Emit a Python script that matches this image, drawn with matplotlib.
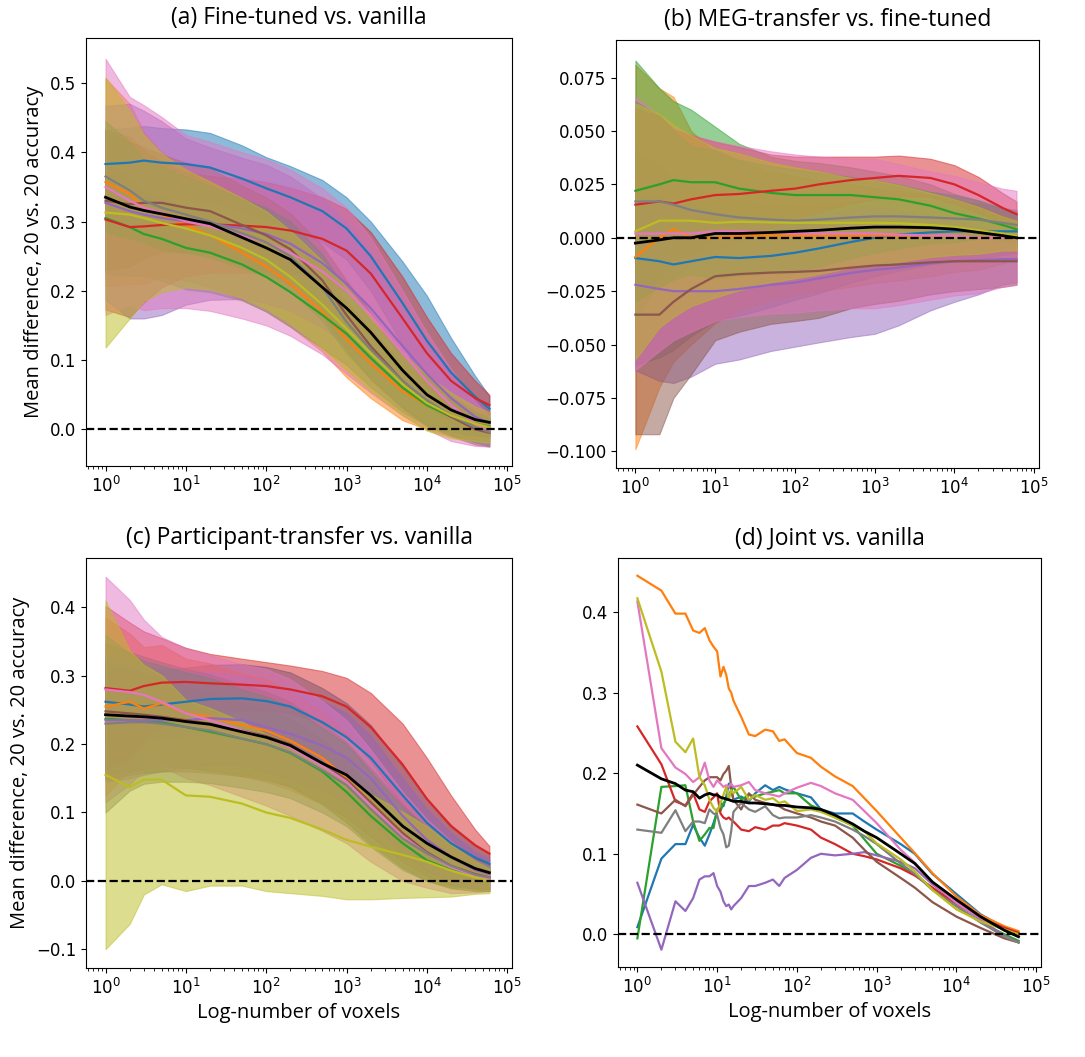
import numpy as np
import matplotlib
matplotlib.use("Agg")
import matplotlib.pyplot as plt

SERIES = ["blue", "orange", "green", "red", "purple", "brown", "pink", "gray", "olive"]
COLORS = {s: "tab:" + s for s in SERIES}

X_SMOOTH = [1, 2, 3, 5, 10, 20, 50, 100, 200, 500, 1000, 2000, 5000, 10000, 20000, 40000, 60000]

# ---------------- (a) Fine-tuned vs. vanilla ----------------
A_MID = {
    "blue":   [.383, .385, .388, .385, .383, .378, .362, .348, .335, .315, .290, .250, .182, .128, .082, .047, .030],
    "orange": [.357, .340, .320, .310, .295, .280, .255, .235, .210, .170, .130, .095, .055, .035, .018, .007, .003],
    "green":  [.305, .292, .282, .275, .262, .255, .238, .220, .198, .165, .138, .103, .060, .035, .018, .008, .004],
    "red":    [.303, .292, .293, .295, .296, .296, .294, .292, .287, .275, .258, .225, .160, .110, .070, .045, .035],
    "purple": [.327, .315, .310, .305, .300, .297, .290, .282, .268, .240, .210, .175, .120, .080, .045, .018, .009],
    "brown":  [.330, .325, .327, .327, .320, .315, .295, .280, .260, .215, .165, .120, .070, .040, .018, .000, -.005],
    "pink":   [.350, .330, .320, .313, .300, .293, .280, .270, .255, .228, .200, .165, .110, .070, .035, .008, -.003],
    "gray":   [.365, .345, .330, .320, .310, .300, .283, .270, .250, .205, .155, .115, .070, .042, .020, .003, -.004],
    "olive":  [.313, .310, .305, .298, .290, .280, .262, .245, .220, .180, .145, .110, .065, .038, .020, .008, .003],
}
A_HW = {
    "blue":   [.050, .050, .050, .050, .050, .050, .048, .045, .045, .045, .045, .050, .060, .065, .050, .030, .018],
    "orange": [.150, .130, .110, .090, .080, .075, .068, .065, .062, .058, .055, .050, .042, .035, .028, .022, .020],
    "green":  [.080, .070, .060, .060, .060, .057, .052, .050, .050, .048, .045, .042, .035, .030, .022, .017, .015],
    "red":    [.130, .130, .110, .090, .075, .070, .068, .065, .062, .060, .060, .060, .060, .052, .040, .025, .015],
    "purple": [.140, .155, .150, .140, .120, .110, .102, .100, .097, .093, .090, .080, .060, .045, .035, .025, .021],
    "brown":  [.100, .090, .080, .070, .065, .062, .057, .055, .052, .050, .050, .048, .040, .035, .028, .022, .020],
    "pink":   [.185, .150, .148, .138, .125, .122, .120, .120, .120, .120, .120, .112, .090, .070, .052, .032, .022],
    "gray":   [.080, .070, .060, .060, .055, .052, .050, .050, .050, .048, .045, .042, .038, .035, .028, .022, .020],
    "olive":  [.195, .150, .120, .100, .085, .078, .072, .070, .067, .063, .060, .055, .045, .040, .033, .025, .022],
}
A_MEAN = [.335, .321, .316, .311, .304, .297, .277, .262, .245, .205, .175, .140, .085, .050, .028, .014, .010]

# ---------------- (b) MEG-transfer vs. fine-tuned ----------------
B_MID = {
    "blue":   [-.0095, -.011, -.0125, -.011, -.009, -.0095, -.0085, -.007, -.005, -.002, .000, .0015, .0025, .003, .003, .003, .003],
    "orange": [-.009, .000, .004, .000, .000, .001, .001, .001, .001, .001, .001, .001, .001, .001, .000, .000, .000],
    "green":  [.022, .025, .027, .026, .026, .023, .021, .020, .020, .020, .019, .018, .015, .0115, .009, .006, .004],
    "red":    [.0155, .017, .016, .018, .020, .0205, .022, .023, .025, .027, .028, .029, .028, .025, .020, .014, .011],
    "purple": [-.022, -.024, -.025, -.025, -.025, -.024, -.022, -.021, -.019, -.0165, -.015, -.014, -.012, -.011, -.0105, -.010, -.010],
    "brown":  [-.036, -.036, -.030, -.024, -.018, -.017, -.0163, -.016, -.0155, -.014, -.013, -.0125, -.0115, -.011, -.011, -.011, -.011],
    "pink":   [.002, .002, .002, .002, .003, .003, .0025, .002, .002, .002, .002, .0015, .001, .001, .000, .000, .000],
    "gray":   [.017, .017, .0155, .013, .011, .0095, .0085, .008, .0085, .0095, .010, .010, .0095, .009, .0085, .007, .006],
    "olive":  [.003, .008, .008, .008, .007, .0075, .0072, .007, .007, .007, .007, .0068, .006, .005, .0035, .002, .001],
}
B_HW = {
    "blue":   [.050, .045, .040, .035, .030, .027, .024, .022, .021, .019, .018, .017, .015, .014, .013, .011, .010],
    "orange": [.090, .070, .062, .050, .040, .035, .030, .028, .026, .024, .022, .021, .019, .017, .015, .012, .010],
    "green":  [.061, .045, .037, .034, .026, .021, .017, .016, .015, .013, .012, .011, .010, .009, .0085, .0075, .007],
    "red":    [.045, .040, .035, .030, .025, .022, .017, .015, .013, .011, .010, .0095, .009, .009, .0085, .007, .006],
    "purple": [.040, .043, .043, .040, .034, .033, .031, .030, .030, .030, .030, .027, .022, .019, .016, .012, .011],
    "brown":  [.056, .056, .045, .040, .030, .027, .024, .023, .022, .019, .018, .017, .015, .014, .013, .012, .011],
    "pink":   [.064, .055, .050, .046, .042, .040, .038, .037, .036, .035, .035, .033, .030, .028, .026, .023, .022],
    "gray":   [.047, .040, .035, .030, .030, .027, .025, .024, .022, .019, .017, .015, .012, .011, .009, .007, .006],
    "olive":  [.060, .050, .045, .040, .035, .032, .028, .026, .024, .021, .020, .018, .015, .013, .011, .008, .007],
}
B_MEAN = [-.0025, -.001, .000, .000, .002, .002, .0025, .003, .0035, .0045, .005, .005, .0047, .004, .0025, .001, .000]

# ---------------- (c) Participant-transfer vs. vanilla ----------------
C_MID = {
    "blue":   [.262, .258, .255, .258, .262, .266, .267, .263, .255, .232, .210, .180, .125, .085, .055, .034, .025],
    "orange": [.255, .262, .252, .260, .245, .240, .228, .220, .205, .180, .150, .115, .070, .040, .022, .010, .005],
    "green":  [.237, .235, .233, .232, .225, .218, .208, .200, .187, .160, .130, .095, .055, .030, .016, .007, .004],
    "red":    [.282, .278, .285, .290, .291, .289, .287, .285, .280, .270, .255, .225, .170, .120, .080, .052, .040],
    "purple": [.235, .235, .235, .235, .235, .238, .235, .225, .215, .198, .180, .150, .095, .060, .035, .016, .010],
    "brown":  [.248, .245, .243, .240, .235, .230, .220, .212, .200, .172, .148, .115, .070, .042, .022, .010, .005],
    "pink":   [.280, .276, .272, .262, .245, .235, .220, .210, .195, .168, .145, .110, .065, .040, .020, .007, .003],
    "gray":   [.230, .232, .232, .230, .225, .220, .208, .200, .188, .162, .140, .105, .062, .040, .022, .009, .005],
    "olive":  [.155, .137, .148, .148, .125, .123, .113, .100, .092, .075, .060, .050, .038, .028, .015, .005, .000],
}
C_HW = {
    "blue":   [.060, .055, .050, .050, .050, .050, .050, .050, .050, .050, .050, .048, .042, .035, .027, .019, .015],
    "orange": [.130, .100, .090, .085, .080, .078, .075, .075, .072, .068, .065, .060, .050, .040, .032, .024, .020],
    "green":  [.080, .075, .070, .065, .060, .057, .052, .050, .050, .048, .045, .042, .036, .030, .024, .018, .015],
    "red":    [.120, .100, .080, .065, .050, .043, .038, .035, .035, .037, .042, .050, .060, .060, .045, .023, .011],
    "purple": [.090, .085, .080, .075, .070, .067, .065, .065, .065, .065, .065, .062, .055, .045, .035, .026, .022],
    "brown":  [.100, .090, .085, .080, .075, .072, .067, .065, .062, .058, .055, .050, .042, .035, .028, .022, .020],
    "pink":   [.165, .135, .110, .095, .095, .095, .097, .100, .100, .095, .090, .082, .065, .050, .038, .024, .018],
    "gray":   [.130, .100, .090, .085, .080, .077, .072, .070, .067, .062, .060, .055, .046, .040, .033, .024, .020],
    "olive":  [.255, .200, .168, .153, .140, .130, .120, .115, .110, .097, .087, .077, .063, .052, .038, .024, .018],
}
C_MEAN = [.243, .241, .240, .238, .233, .229, .218, .210, .198, .172, .155, .125, .080, .055, .035, .018, .012]

# ---------------- (d) Joint vs. vanilla (no bands) ----------------
X_D = [1, 2, 3, 4, 5, 6, 7, 8, 9, 10, 11, 12, 13, 14, 15, 16, 20, 25, 30, 40, 50, 60,
       70, 100, 150, 200, 300, 500, 700, 1000, 2000, 3000, 5000, 10000, 20000, 40000, 60000]
D_VAL = {
    "blue":   [.009, .094, .112, .112, .136, .120, .110, .124, .138, .152, .163, .159, .171, .187, .179, .167,
               .171, .165, .175, .185, .179, .183, .180, .175, .170, .155, .150, .150, .140, .130, .112, .100,
               .075, .050, .025, .008, .000],
    "orange": [.445, .4265, .398, .398, .377, .374, .380, .365, .357, .351, .320, .332, .322, .305, .300, .290,
               .270, .248, .246, .254, .252, .240, .242, .225, .219, .208, .196, .184, .169, .153, .120, .101,
               .076, .047, .024, .010, .004],
    "green":  [-.005, .183, .184, .185, .140, .116, .124, .132, .132, .155, .153, .163, .167, .173, .179, .183,
               .167, .173, .171, .175, .177, .179, .175, .175, .160, .155, .145, .135, .118, .100, .085, .075,
               .057, .035, .015, .000, -.008],
    "red":    [.258, .211, .165, .160, .175, .155, .152, .165, .170, .175, .150, .145, .143, .145, .142, .140,
               .130, .128, .133, .130, .135, .135, .138, .135, .130, .120, .112, .100, .097, .093, .082, .073,
               .058, .038, .020, .008, .002],
    "purple": [.064, -.019, .041, .029, .045, .068, .072, .072, .076, .060, .053, .041, .035, .037, .031, .035,
               .045, .060, .060, .064, .068, .060, .070, .080, .095, .100, .098, .100, .102, .098, .090, .082,
               .062, .040, .018, -.002, -.010],
    "brown":  [.161, .150, .167, .159, .173, .183, .191, .195, .195, .195, .191, .199, .203, .209, .183, .167,
               .155, .175, .167, .163, .161, .159, .155, .150, .145, .140, .135, .120, .105, .090, .070, .058,
               .040, .022, .008, -.005, -.010],
    "pink":   [.413, .231, .207, .199, .189, .195, .213, .191, .183, .191, .187, .183, .185, .183, .187, .183,
               .185, .189, .179, .175, .173, .171, .175, .182, .188, .184, .175, .167, .153, .138, .105, .089,
               .064, .039, .020, .005, -.002],
    "gray":   [.130, .126, .154, .128, .140, .140, .138, .155, .150, .148, .132, .124, .108, .110, .128, .152,
               .163, .155, .152, .159, .148, .144, .145, .145, .148, .145, .140, .130, .122, .112, .088, .075,
               .055, .035, .015, -.003, -.010],
    "olive":  [.417, .326, .239, .226, .243, .195, .185, .167, .157, .152, .163, .173, .183, .167, .179, .175,
               .183, .167, .173, .167, .169, .163, .165, .153, .155, .152, .145, .135, .128, .113, .093, .078,
               .055, .031, .016, .006, .000],
}
D_MEAN = [.210, .193, .187, .179, .177, .169, .173, .175, .173, .173, .170, .169, .168, .167, .166, .165,
          .165, .163, .163, .162, .161, .160, .160, .158, .157, .155, .148, .137, .128, .120, .100, .088,
          .065, .043, .022, .005, -.003]

TITLES = ["(a) Fine-tuned vs. vanilla", "(b) MEG-transfer vs. fine-tuned",
          "(c) Participant-transfer vs. vanilla", "(d) Joint vs. vanilla"]
YLABEL = "Mean difference, 20 vs. 20 accuracy"
XLABEL = "Log-number of voxels"

W, H = 1085, 1057
fig = plt.figure(figsize=(W / 100, H / 100), dpi=100)


def rect(l, r, t, b):
    return [l / W, 1 - b / H, (r - l) / W, (b - t) / H]


ax_a = fig.add_axes(rect(86, 512, 38, 466))
ax_b = fig.add_axes(rect(616, 1039, 40, 468))
ax_c = fig.add_axes(rect(86, 512, 558, 968))
ax_d = fig.add_axes(rect(618, 1041, 558, 967))

TITLE_FONT = dict(family=["Open Sans", "DejaVu Sans"], size=16.5)
LABEL_FONT = dict(family=["Open Sans", "DejaVu Sans"], size=14.5)


def banded(ax, mids, hws, mean):
    x = np.array(X_SMOOTH, dtype=float)
    for s in SERIES:
        m = np.array(mids[s])
        h = np.array(hws[s])
        ax.plot(x, m, color=COLORS[s], lw=1.6)
        ax.fill_between(x, m - h, m + h, color=COLORS[s], alpha=0.5, lw=0.8)
    ax.plot(x, mean, color="black", lw=2.0)


banded(ax_a, A_MID, A_HW, A_MEAN)
banded(ax_b, B_MID, B_HW, B_MEAN)
banded(ax_c, C_MID, C_HW, C_MEAN)
for s in SERIES:
    ax_d.plot(X_D, D_VAL[s], color=COLORS[s], lw=1.6)
ax_d.plot(X_D, D_MEAN, color="black", lw=2.0)

ylims = [(-0.053, 0.565), (-0.1078, 0.0926), (-0.1275, 0.4723), (-0.0405, 0.467)]
yticks = [[0.0, 0.1, 0.2, 0.3, 0.4, 0.5],
          [-0.100, -0.075, -0.050, -0.025, 0.000, 0.025, 0.050, 0.075],
          [-0.1, 0.0, 0.1, 0.2, 0.3, 0.4],
          [0.0, 0.1, 0.2, 0.3, 0.4]]
yfmt = ["%.1f", "%.3f", "%.1f", "%.1f"]

for i, ax in enumerate([ax_a, ax_b, ax_c, ax_d]):
    ax.set_xscale("log")
    ax.set_xlim(10 ** -0.243, 10 ** 5.06)
    ax.set_ylim(*ylims[i])
    ax.set_yticks(yticks[i])
    ax.set_yticklabels([(yfmt[i] % v).replace("-", "\u2212") for v in yticks[i]])
    ax.axhline(0, color="black", ls="--", lw=1.6, zorder=5)
    ax.tick_params(labelsize=12)
    ax.set_title(TITLES[i], pad=10, **TITLE_FONT)

ax_a.set_ylabel(YLABEL, **LABEL_FONT)
ax_c.set_ylabel(YLABEL, **LABEL_FONT)
ax_c.set_xlabel(XLABEL, **LABEL_FONT)
ax_d.set_xlabel(XLABEL, **LABEL_FONT)

fig.savefig("out.png", dpi=100)
